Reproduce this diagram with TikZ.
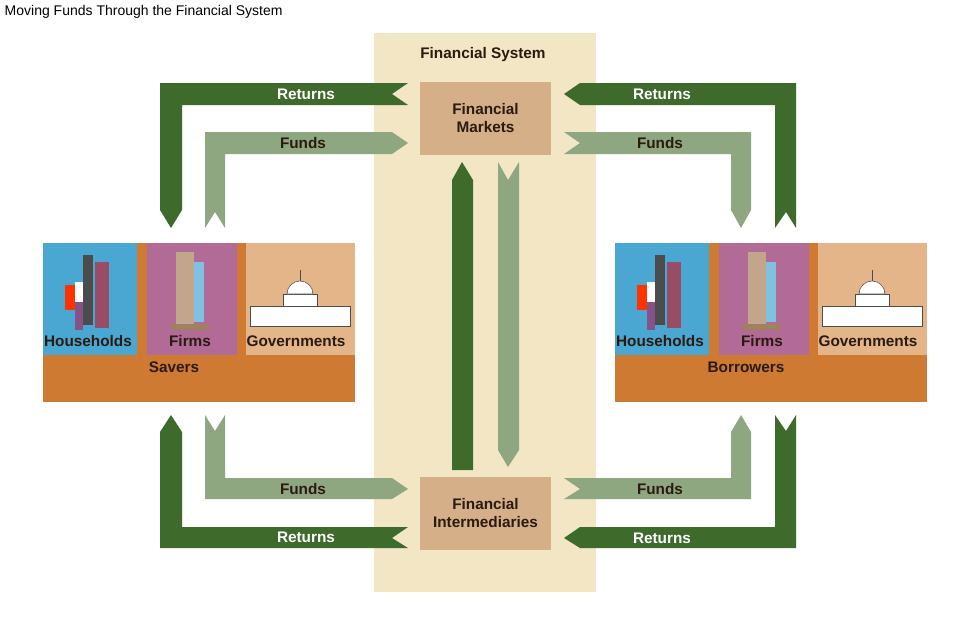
\documentclass[tikz,border=0pt]{standalone}
\usepackage{fontspec}
\setmainfont{Liberation Sans}
\begin{document}
\begin{tikzpicture}[x=0.75pt,y=-0.75pt,
  lbl/.style={font=\fontsize{11.5}{13}\selectfont\bfseries},
  dk/.style={fill=darkG,draw=none},
  lt/.style={fill=lightG,draw=none},
  box/.style={fill=boxC,draw=none,minimum width=131*0.75pt,minimum height=73*0.75pt,align=center,font=\fontsize{11.5}{13.5}\selectfont\bfseries,text=txtD}]
\definecolor{darkG}{HTML}{3E6A2C}
\definecolor{lightG}{HTML}{8FA780}
\definecolor{band}{HTML}{F2E6C5}
\definecolor{boxC}{HTML}{D5AF88}
\definecolor{orangeC}{HTML}{CE7A33}
\definecolor{blueC}{HTML}{4AA7D2}
\definecolor{purpC}{HTML}{B26A96}
\definecolor{peachC}{HTML}{E4B589}
\definecolor{txtD}{HTML}{2A1A10}
\useasboundingbox (0,0) rectangle (964,619);
\fill[white] (0,0) rectangle (964,619);
\node[anchor=west,font=\fontsize{10.5}{12}\selectfont] (title) at (0,12) {Moving Funds Through the Financial System};
\fill[band] (374,33) rectangle (596,592);
\node[lbl,text=txtD] (fs) at (483,55) {Financial System};
\node[box] (fm) at (485.5,118.5) {Financial\\Markets};
\node[box] (fi) at (485.5,513.5) {Financial\\Intermediaries};
% savers / borrowers
\foreach \x/\nm/\lab in {43/sv/Savers,615/bw/Borrowers}{
  \fill[orangeC] (\x,243) rectangle ++(312,159);
  \fill[blueC] (\x,243) rectangle ++(94,112);
  \fill[purpC] (\x+104,243) rectangle ++(90,112);
  \fill[peachC] (\x+203,243) rectangle ++(109,112);
  % firm building
  \fill[brown!60!gray!70] (\x+133,252) rectangle ++(18,72);
  \fill[blueC!70!white] (\x+151,262) rectangle ++(10,60);
  \fill[brown!50!gray] (\x+128,324) rectangle ++(38,6);
  % capitol
  \draw[black!70,fill=white] (\x+207,326) rectangle ++(100,-20);
  \draw[black!70,fill=white] (\x+240,306) rectangle ++(34,-12);
  \draw[black!70,fill=white] (\x+244,294) arc (-180:0:13) -- cycle;
  \draw[black!70] (\x+257,281) -- (\x+257,270);
  % family
  \fill[black!70] (\x+40,255) rectangle ++(10,70);
  \fill[gray!60!purple] (\x+52,262) rectangle ++(14,66);
  \fill[red!60!orange] (\x+22,285) rectangle ++(10,25);
  \fill[white] (\x+32,282) rectangle ++(8,20);
  \fill[blueC!50!purple] (\x+32,302) rectangle ++(8,28);
  \node[lbl,text=txtD] (h\nm) at (\x+45,341) {Households};
  \node[lbl,text=txtD] (f\nm) at (\x+147,341) {Firms};
  \node[lbl,text=txtD] (g\nm) at (\x+253,341) {Governments};
  \node[lbl,text=txtD] (\nm) at (\x+131,367) {\lab};
}
% top-left
\fill[dk] (160,83)--(408,83)--(392,94)--(408,105)--(182,105)--(182,210)--(171,228)--(160,210)--cycle;
\fill[lt] (205,132)--(392,132)--(408,143)--(392,154)--(225,154)--(225,228)--(215,212)--(205,228)--cycle;
% top-right
\fill[dk] (580,83)--(796,83)--(796,228)--(786,212)--(775,228)--(775,105)--(580,105)--(564,94)--cycle;
\fill[lt] (564,132)--(751,132)--(751,210)--(741,228)--(731,210)--(731,154)--(564,154)--(580,143)--cycle;
% bottom-left
\fill[dk] (171,415)--(182,432)--(182,527)--(408,527)--(392,538)--(408,548)--(160,548)--(160,432)--cycle;
\fill[lt] (205,415)--(215,431)--(225,415)--(225,478)--(392,478)--(408,489)--(392,499)--(205,499)--cycle;
% bottom-right
\fill[lt] (741,415)--(751,432)--(751,499)--(564,499)--(580,489)--(564,478)--(731,478)--(731,432)--cycle;
\fill[dk] (775,415)--(786,431)--(796,415)--(796,548)--(580,548)--(564,538)--(580,527)--(775,527)--cycle;
% centre
\fill[dk] (462,162)--(473,180)--(473,470)--(452,470)--(452,180)--cycle;
\fill[lt] (498,162)--(508,180)--(519,162)--(519,450)--(508,467)--(498,450)--cycle;
% labels
\node[lbl,text=white] (r1) at (306,94) {Returns};
\node[lbl,text=txtD] (f1) at (303,143) {Funds};
\node[lbl,text=white] (r2) at (662,94) {Returns};
\node[lbl,text=txtD] (f2) at (660,143) {Funds};
\node[lbl,text=txtD] (f3) at (303,489) {Funds};
\node[lbl,text=white] (r3) at (306,537) {Returns};
\node[lbl,text=txtD] (f4) at (660,489) {Funds};
\node[lbl,text=white] (r4) at (662,538) {Returns};
\end{tikzpicture}
\end{document}
